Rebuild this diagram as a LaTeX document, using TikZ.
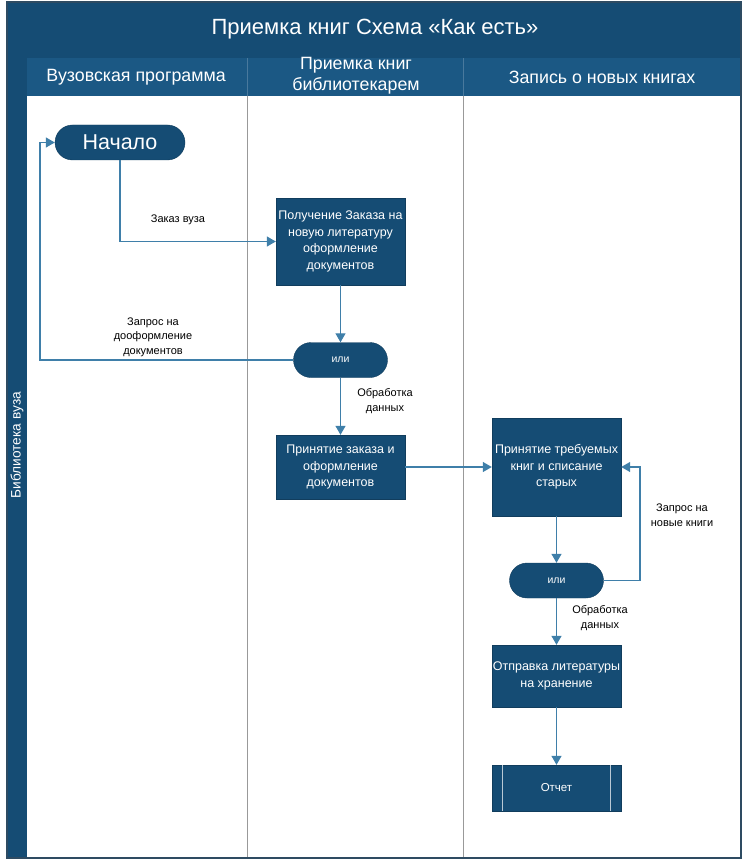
\documentclass[tikz,border=0pt]{standalone}
\usepackage{fontspec}
\setmainfont{Liberation Sans}
\usetikzlibrary{arrows.meta}
\definecolor{dblue}{HTML}{154C74}
\definecolor{hblue}{HTML}{1B5884}
\definecolor{lineblue}{HTML}{3F7FA9}
\definecolor{framec}{HTML}{2E4B62}
\begin{document}
\begin{tikzpicture}[x=1pt,y=-1pt,
  box/.style={fill=dblue, draw=dblue!80!black, text=white, minimum width=129pt, inner sep=1pt,
    font=\fontsize{12.5}{16.5}\selectfont, align=center},
  term/.style={fill=dblue, draw=dblue!80!black, text=white, rounded corners=17.5pt, minimum height=35pt, inner sep=2pt},
  conn/.style={draw=lineblue, line width=1.2pt, -{Triangle[width=10pt,length=9pt]}},
  lbl/.style={font=\fontsize{11}{15}\selectfont, align=center, text=black},
  hdr/.style={text=white, font=\fontsize{17.8}{21}\selectfont, align=center}]
\useasboundingbox (0,0) rectangle (744,861);
% frame
\fill[dblue] (7,2) rectangle (741,58);
\fill[hblue] (27,58) rectangle (741,96);
\fill[dblue] (7,58) rectangle (27,858);
\draw[gray!80, line width=0.6pt] (247,96) -- (247,858);
\draw[gray!80, line width=0.6pt] (463,96) -- (463,858);
\draw[hblue!80!white, line width=0.5pt] (247,58) -- (247,96);
\draw[hblue!80!white, line width=0.5pt] (463,58) -- (463,96);
\draw[framec, line width=1.2pt] (7,2) rectangle (741,858);
\node[text=white, font=\fontsize{22}{26}\selectfont] (title) at (375,29) {Приемка книг Схема «Как есть»};
\node[hdr] (h1) at (136,77) {Вузовская программа};
\node[hdr, font=\fontsize{17.8}{21}\selectfont] (h2) at (356,76) {Приемка книг\\библиотекарем};
\node[hdr] (h3) at (602,77) {Запись о новых книгах};
\node[text=white, rotate=90, font=\fontsize{13.7}{16}\selectfont] (side) at (17,445) {Библиотека вуза};
% nodes
\node[term, minimum width=130pt, font=\fontsize{21.5}{24}\selectfont] (start) at (120,142.5) {Начало};
\node[box, minimum height=87pt] (b1) at (340.5,241.5) {Получение Заказа на\\новую литературу\\оформление\\документов};
\node[term, minimum width=94pt, font=\fontsize{10.5}{12}\selectfont] (or1) at (340.5,360) {или};
\node[box, minimum height=64pt] (b2) at (340.5,467) {Принятие заказа и\\оформление\\документов};
\node[box, minimum height=98pt] (b3) at (556.5,467) {Принятие требуемых\\книг и списание\\старых};
\node[term, minimum width=94pt, font=\fontsize{10.5}{12}\selectfont] (or2) at (556.5,580.5) {или};
\node[box, minimum height=62pt] (b4) at (556.5,676) {Отправка литературы\\на хранение};
\node[box, minimum height=46pt, font=\fontsize{11.5}{13}\selectfont] (b5) at (556.5,788) {Отчет};
\draw[white!70!dblue, line width=0.8pt] ([xshift=11pt]b5.north west) -- ([xshift=11pt]b5.south west);
\draw[white!70!dblue, line width=0.8pt] ([xshift=-11pt]b5.north east) -- ([xshift=-11pt]b5.south east);
% connectors
\coordinate (c1) at (40,360);
\coordinate (c2) at (640,580.5);
\draw[conn] (start.south) |- (b1.west);
\draw[conn] (b1) -- (or1);
\draw[conn] (or1.west) -- (c1) |- (start.west);
\draw[conn] (or1) -- (b2);
\draw[conn] (b2) -- (b3);
\draw[conn] (b3) -- (or2);
\draw[conn] (or2.east) -- (c2) |- (b3.east);
\draw[conn] (or2) -- (b4);
\draw[conn] (b4) -- (b5);
% labels
\node[lbl] (l1) at (178,220) {Заказ вуза};
\node[lbl, font=\fontsize{11}{14.5}\selectfont] (l2) at (153,337) {Запрос на\\дооформление\\документов};
\node[lbl] (l3) at (385,401) {Обработка\\данных};
\node[lbl] (l4) at (682,515) {Запрос на\\новые книги};
\node[lbl] (l5) at (600,618) {Обработка\\данных};
\end{tikzpicture}
\end{document}
